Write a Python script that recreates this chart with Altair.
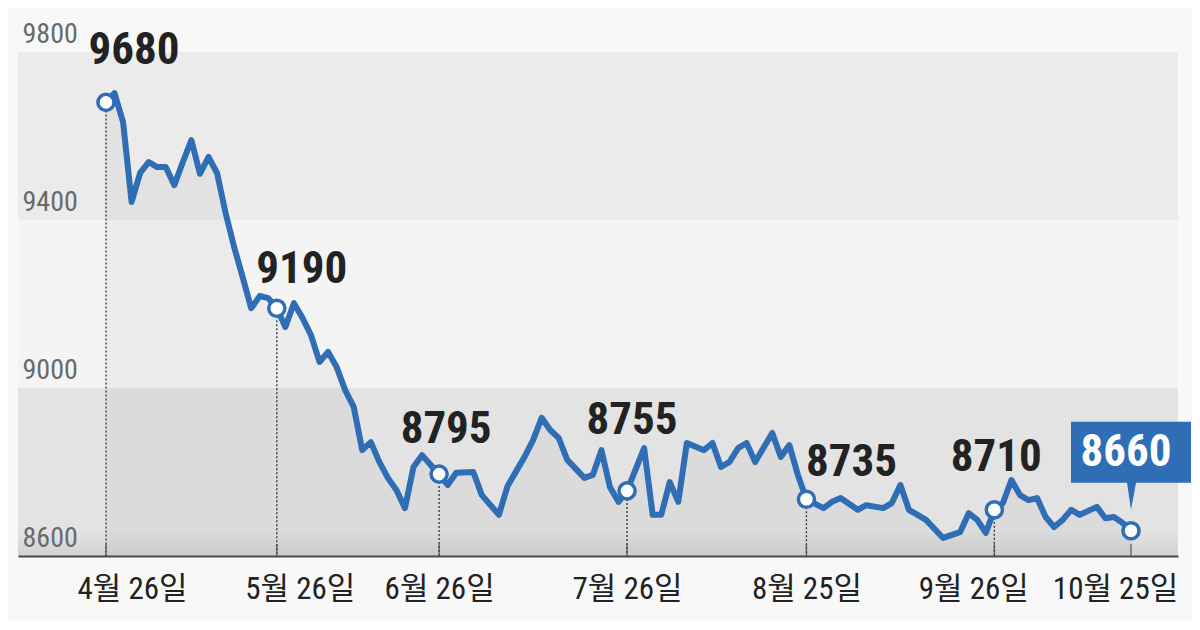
import altair as alt
import pandas as pd

# ---- data ----
day_idx = [0, 1, 2, 3, 4, 5, 6, 7, 8, 9, 10, 11, 12, 13, 14, 15, 16, 17, 18, 19,
           20, 21, 22, 23, 24, 25, 26, 27, 28, 29, 30, 31, 32, 33, 34, 35, 36, 37, 38, 39,
           40, 41, 43, 44, 46, 47, 49, 50, 51, 52, 53, 54, 56, 57, 58, 59, 60, 61, 63, 64,
           65, 66, 67, 68, 70, 71, 72, 73, 74, 75, 76, 78, 79, 80, 81, 82, 84, 85, 86, 88,
           89, 91, 92, 93, 94, 96, 98, 100, 101, 102, 103, 104, 105, 106, 107, 108, 109, 110, 111, 112,
           113, 114, 116, 117, 118, 119, 120]
values = [9680, 9702, 9633, 9443, 9512, 9538, 9526, 9526, 9483, 9538, 9590, 9510, 9550, 9512, 9417, 9336, 9264, 9190, 9219, 9214,
          9190, 9145, 9202, 9167, 9126, 9062, 9086, 9050, 8995, 8955, 8852, 8871, 8824, 8786, 8757, 8714, 8812, 8840, 8817, 8795,
          8769, 8798, 8800, 8745, 8698, 8766, 8836, 8876, 8929, 8900, 8881, 8829, 8786, 8793, 8852, 8764, 8729, 8755, 8857, 8698,
          8698, 8776, 8729, 8869, 8852, 8869, 8812, 8824, 8857, 8869, 8824, 8893, 8836, 8864, 8793, 8735, 8714, 8729, 8738, 8710,
          8721, 8714, 8726, 8769, 8710, 8686, 8643, 8657, 8702, 8686, 8655, 8710, 8726, 8781, 8745, 8733, 8738, 8693, 8669, 8686,
          8710, 8698, 8717, 8690, 8693, 8679, 8660]

tick_idx = [0, 20, 39, 61, 82, 104, 120]
tick_labels = ["4월 26일", "5월 26일", "6월 26일", "7월 26일", "8월 25일", "9월 26일", "10월 25일"]

label_idx = [0, 20, 39, 61, 82, 104]
label_vals = [9680, 9190, 8795, 8755, 8735, 8710]
last_idx = [120]
last_val = [8660]

y_ticks = [8600, 9000, 9400, 9800]
band_lo = [9400, 9000, 8600]
band_hi = [9800, 9400, 9000]

# ---- styles ----
BLUE = "#2f6eb5"
band_colors = ["#ebebeb", "#f4f4f4", "#e3e3e3"]
label_dx = [28, 25, 7, 5, 45, 2]
label_dy = [-52, -39, -45, -71, -37, -53]
tick_label_shift = [26, 23, 0, 0, 0, -21, -16]
NARROW = "Liberation Sans Narrow, Roboto Condensed, Noto Sans CJK KR, sans-serif"

df = pd.DataFrame({"i": day_idx, "v": values})
bands = pd.DataFrame({"lo": band_lo, "hi": band_hi, "c": band_colors})
ticks = pd.DataFrame({"i": tick_idx, "t": tick_labels})
lab = pd.DataFrame({"i": label_idx, "v": label_vals})
last = pd.DataFrame({"i": last_idx, "v": last_val, "t": [str(x) for x in last_val]})

label_map = "{" + ",".join(f"'{i}':'{t}'" for i, t in zip(tick_idx, tick_labels)) + "}"
offset_cond = {
    "condition": [{"test": f"datum.value == {i}", "value": s}
                  for i, s in zip(tick_idx, tick_label_shift) if s != 0],
    "value": 0,
}

xscale = alt.Scale(domain=[-10.3, 125.5], nice=False, zero=False)
yscale = alt.Scale(domain=[8600, 9800], nice=False, zero=False)

xaxis = alt.Axis(values=tick_idx, labelExpr=f"{label_map}[datum.value + '']", grid=False,
                 ticks=False, domainColor="#4a4a4a", domainWidth=2, labelPadding=18,
                 labelFontSize=31, labelColor="#222222", labelFont=NARROW, title=None,
                 labelOffset=offset_cond, zindex=1)
yaxis = alt.Axis(values=y_ticks, format="d", grid=False, ticks=False, domain=False,
                 labelAlign="left", labelPadding=-4, labelBaseline="alphabetic",
                 labelOffset=-10, labelFontSize=28, labelColor="#6a6a6a", labelFont=NARROW,
                 title=None, zindex=1)

X = alt.X("i:Q", scale=xscale, axis=xaxis)
Y = alt.Y("v:Q", scale=yscale, axis=yaxis)

band_layer = alt.Chart(bands).mark_rect().encode(
    y=alt.Y("lo:Q", scale=yscale, axis=yaxis), y2="hi:Q",
    color=alt.Color("c:N", scale=None))

# soft shadow strip just above the baseline
shade = alt.Chart(pd.DataFrame({"lo": [8600], "hi": [8660]})).mark_rect(
    color=alt.Gradient(gradient="linear",
                       stops=[alt.GradientStop(color="rgba(0,0,0,0)", offset=0),
                              alt.GradientStop(color="rgba(0,0,0,0.07)", offset=1)],
                       x1=0, x2=0, y1=0, y2=1)
).encode(y=alt.Y("lo:Q", scale=yscale, axis=yaxis), y2="hi:Q")

area = alt.Chart(df).mark_area(color="#000000", opacity=0.035).encode(
    x=X, y=Y, y2=alt.datum(8600))

drops = alt.Chart(lab).mark_rule(color="#333333", strokeWidth=1.3, strokeDash=[2, 2]).encode(
    x=X, y=Y, y2=alt.datum(8600))

tick_marks = alt.Chart(ticks).mark_tick(orient="vertical", size=12, yOffset=-6,
                                        color="#444444", thickness=1.5).encode(
    x=alt.X("i:Q", scale=xscale, axis=xaxis), y=alt.datum(8600))

line = alt.Chart(df).mark_line(color=BLUE, strokeWidth=6, strokeJoin="round",
                               strokeCap="round").encode(x=X, y=Y)

circ_df = pd.concat([lab, last[["i", "v"]]], ignore_index=True)
circles = alt.Chart(circ_df).mark_point(shape="circle", size=260, filled=True, fill="white",
                                        stroke=BLUE, strokeWidth=3.5, opacity=1).encode(x=X, y=Y)

layers = [band_layer, shade, area, drops, tick_marks, line, circles]

for k in range(len(label_idx)):
    one = pd.DataFrame({"i": [label_idx[k]], "v": [label_vals[k]], "t": [str(label_vals[k])]})
    layers.append(
        alt.Chart(one).mark_text(font=NARROW, fontSize=45, fontWeight="bold", color="#222222",
                                 align="center", baseline="middle",
                                 dx=label_dx[k], dy=label_dy[k]).encode(x=X, y=Y, text="t:N"))

callout_path = "M -6 -10.9 L 6 -10.9 L 6 -4.8 L 0.5 -4.8 L 0 -2.1 L -0.4 -4.8 L -6 -4.8 Z"
callout = alt.Chart(last).mark_point(shape=callout_path, size=400, filled=True, fill=BLUE,
                                     strokeWidth=0, opacity=1).encode(x=X, y=Y)
callout_text = alt.Chart(last).mark_text(font=NARROW, fontSize=45, fontWeight="bold",
                                         color="white", align="center", baseline="middle",
                                         dx=-5, dy=-79).encode(x=X, y=Y, text="t:N")
layers += [callout, callout_text]

chart = alt.layer(*layers).properties(
    width=1160, height=504,
    autosize=alt.AutoSizeParams(type="none"),
    padding={"left": 10, "top": 44, "right": 14, "bottom": 64},
    background="#f8f8f8",
).configure_view(stroke=None)

chart.save("out.html", embed_options={"renderer": "svg", "actions": False})
